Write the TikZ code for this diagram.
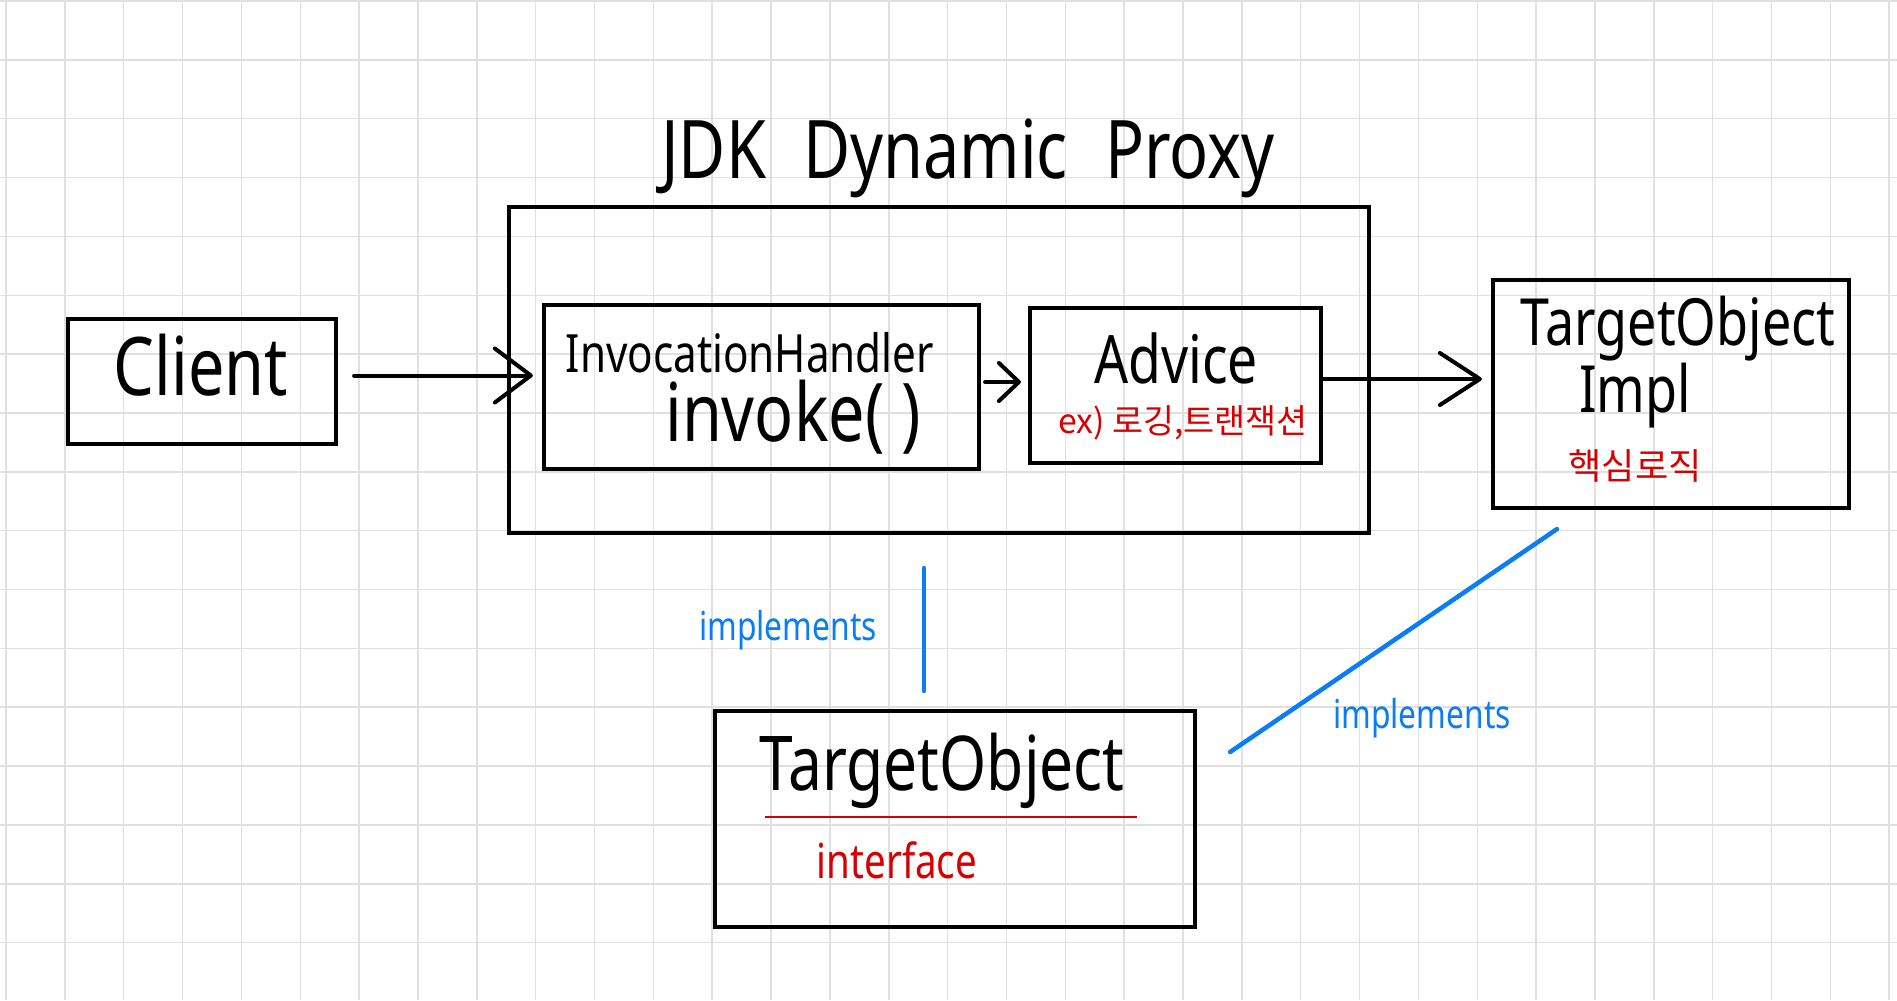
\documentclass[tikz,border=0pt]{standalone}
\usepackage{fontspec}
\setmainfont{Noto Sans}[FakeStretch=0.8]
\newfontfamily\kor{Noto Sans CJK KR}
\usetikzlibrary{arrows.meta}
\definecolor{penred}{RGB}{215,0,0}
\definecolor{penblue}{RGB}{10,125,245}
\definecolor{gridgray}{RGB}{224,224,224}
\newcommand\fsz[1]{\fontsize{#1}{#1}\selectfont}

\begin{document}
\begin{tikzpicture}[x=0.01cm,y=-0.01cm,
	box/.style={draw=black, line width=0.04cm, inner sep=0pt},
	arr/.style={line width=0.04cm, line cap=round, -{Straight Barb[round,length=0.36cm,width=0.54cm]}},
	impl/.style={draw=penblue, line width=0.045cm, line cap=round},
	gridline/.style={draw=gridgray, line width=0.015cm}]
	% paper
	\useasboundingbox (0,0) rectangle (1897,1000);
	\fill[white] (0,0) rectangle (1897,1000);
	\foreach \i in {0,...,32} \draw[gridline] ({6+58.85*\i},0) -- ({6+58.85*\i},1000);
	\foreach \j in {0,...,16} \draw[gridline] (0,{1+58.85*\j}) -- (1897,{1+58.85*\j});

	% boxes
	\node (client) at ( 202, 381.5)	[box, minimum width=2.68cm, minimum height=1.25cm]	{};
	\node (proxy)  at ( 939, 370)	[box, minimum width=8.60cm, minimum height=3.26cm]	{};
	\node (ih)     at ( 761.5, 387)	[box, minimum width=4.35cm, minimum height=1.63cm]	{};
	\node (adv)    at (1175.5, 385.5)	[box, minimum width=2.91cm, minimum height=1.55cm]	{};
	\node (toi)    at (1671, 394)	[box, minimum width=3.56cm, minimum height=2.28cm]	{};
	\node (tob)    at ( 955, 819)	[box, minimum width=4.80cm, minimum height=2.16cm]	{};

	% texts
	\node (title)   at ( 968, 178)	[anchor=base, font=\fsz{23pt}]	{JDK\hspace{0.25em} Dynamic\hspace{0.25em} Proxy};
	\node (clienttxt) at ( 201, 395)	[anchor=base, font=\fsz{23pt}]	{Client};
	\node (ihtxt)   at ( 750, 372)	[anchor=base, font=\fsz{15pt}]	{InvocationHandler};
	\node (invtxt)  at ( 793, 441)	[anchor=base, font=\fsz{23pt}]	{invoke( )};
	\node (advtxt)  at (1176, 383)	[anchor=base, font=\fsz{19pt}]	{Advice};
	\node (extxt)   at (1183, 423)	[font=\kor\fsz{9.6pt}, text=penred]	{ex) 로깅,트랜잭션};
	\node (toitxt)  at (1678, 345)	[anchor=base, font=\fsz{18.5pt}]	{TargetObject};
	\node (impltxt) at (1635, 412)	[anchor=base, font=\fsz{18.5pt}]	{Impl};
	\node (coretxt) at (1635, 466)	[font=\kor\fsz{10.3pt}, text=penred]	{핵심로직};
	\node (totxt)   at ( 942, 790)	[anchor=base, font=\fsz{21.5pt}]	{TargetObject};
	\node (iftxt)   at ( 897, 878)	[anchor=base, font=\fsz{13.7pt}, text=penred]	{interface};
	\node (impl1)   at ( 788, 640)	[anchor=base, font=\fsz{11.3pt}, text=penblue]	{implements};
	\node (impl2)   at (1422, 728)	[anchor=base, font=\fsz{11.3pt}, text=penblue]	{implements};
	\draw[penred, line width=0.025cm] (765,817) -- (1137,817);

	% calls
	\draw[arr, shorten <=0.16cm, shorten >=0.09cm] ([yshift=0.06cm]client.east) -- ([yshift=0.06cm]client.east -| ih.west);
	\draw[arr, -{Straight Barb[round,length=0.2cm,width=0.38cm]}, shorten <=0.04cm, shorten >=0.07cm] ([yshift=0.05cm]ih.east) -- ([yshift=0.05cm]ih.east -| adv.west);
	\draw[arr, -{Straight Barb[round,length=0.4cm,width=0.52cm]}, shorten >=0.09cm] ([yshift=0.065cm]adv.east) -- ([yshift=0.065cm]adv.east -| toi.west);

	% implements
	\draw[impl, shorten <=0.33cm, shorten >=0.18cm] ([xshift=-0.15cm]proxy.south) -- ([xshift=-0.15cm]proxy.south |- tob.north);
	\coordinate (i1) at ([xshift=-1.14cm, yshift=-0.19cm]toi.south);
	\coordinate (i2) at ([xshift=0.33cm, yshift=0.67cm]tob.east);
	\draw[impl] (i1) -- (i2);
\end{tikzpicture}
\end{document}
